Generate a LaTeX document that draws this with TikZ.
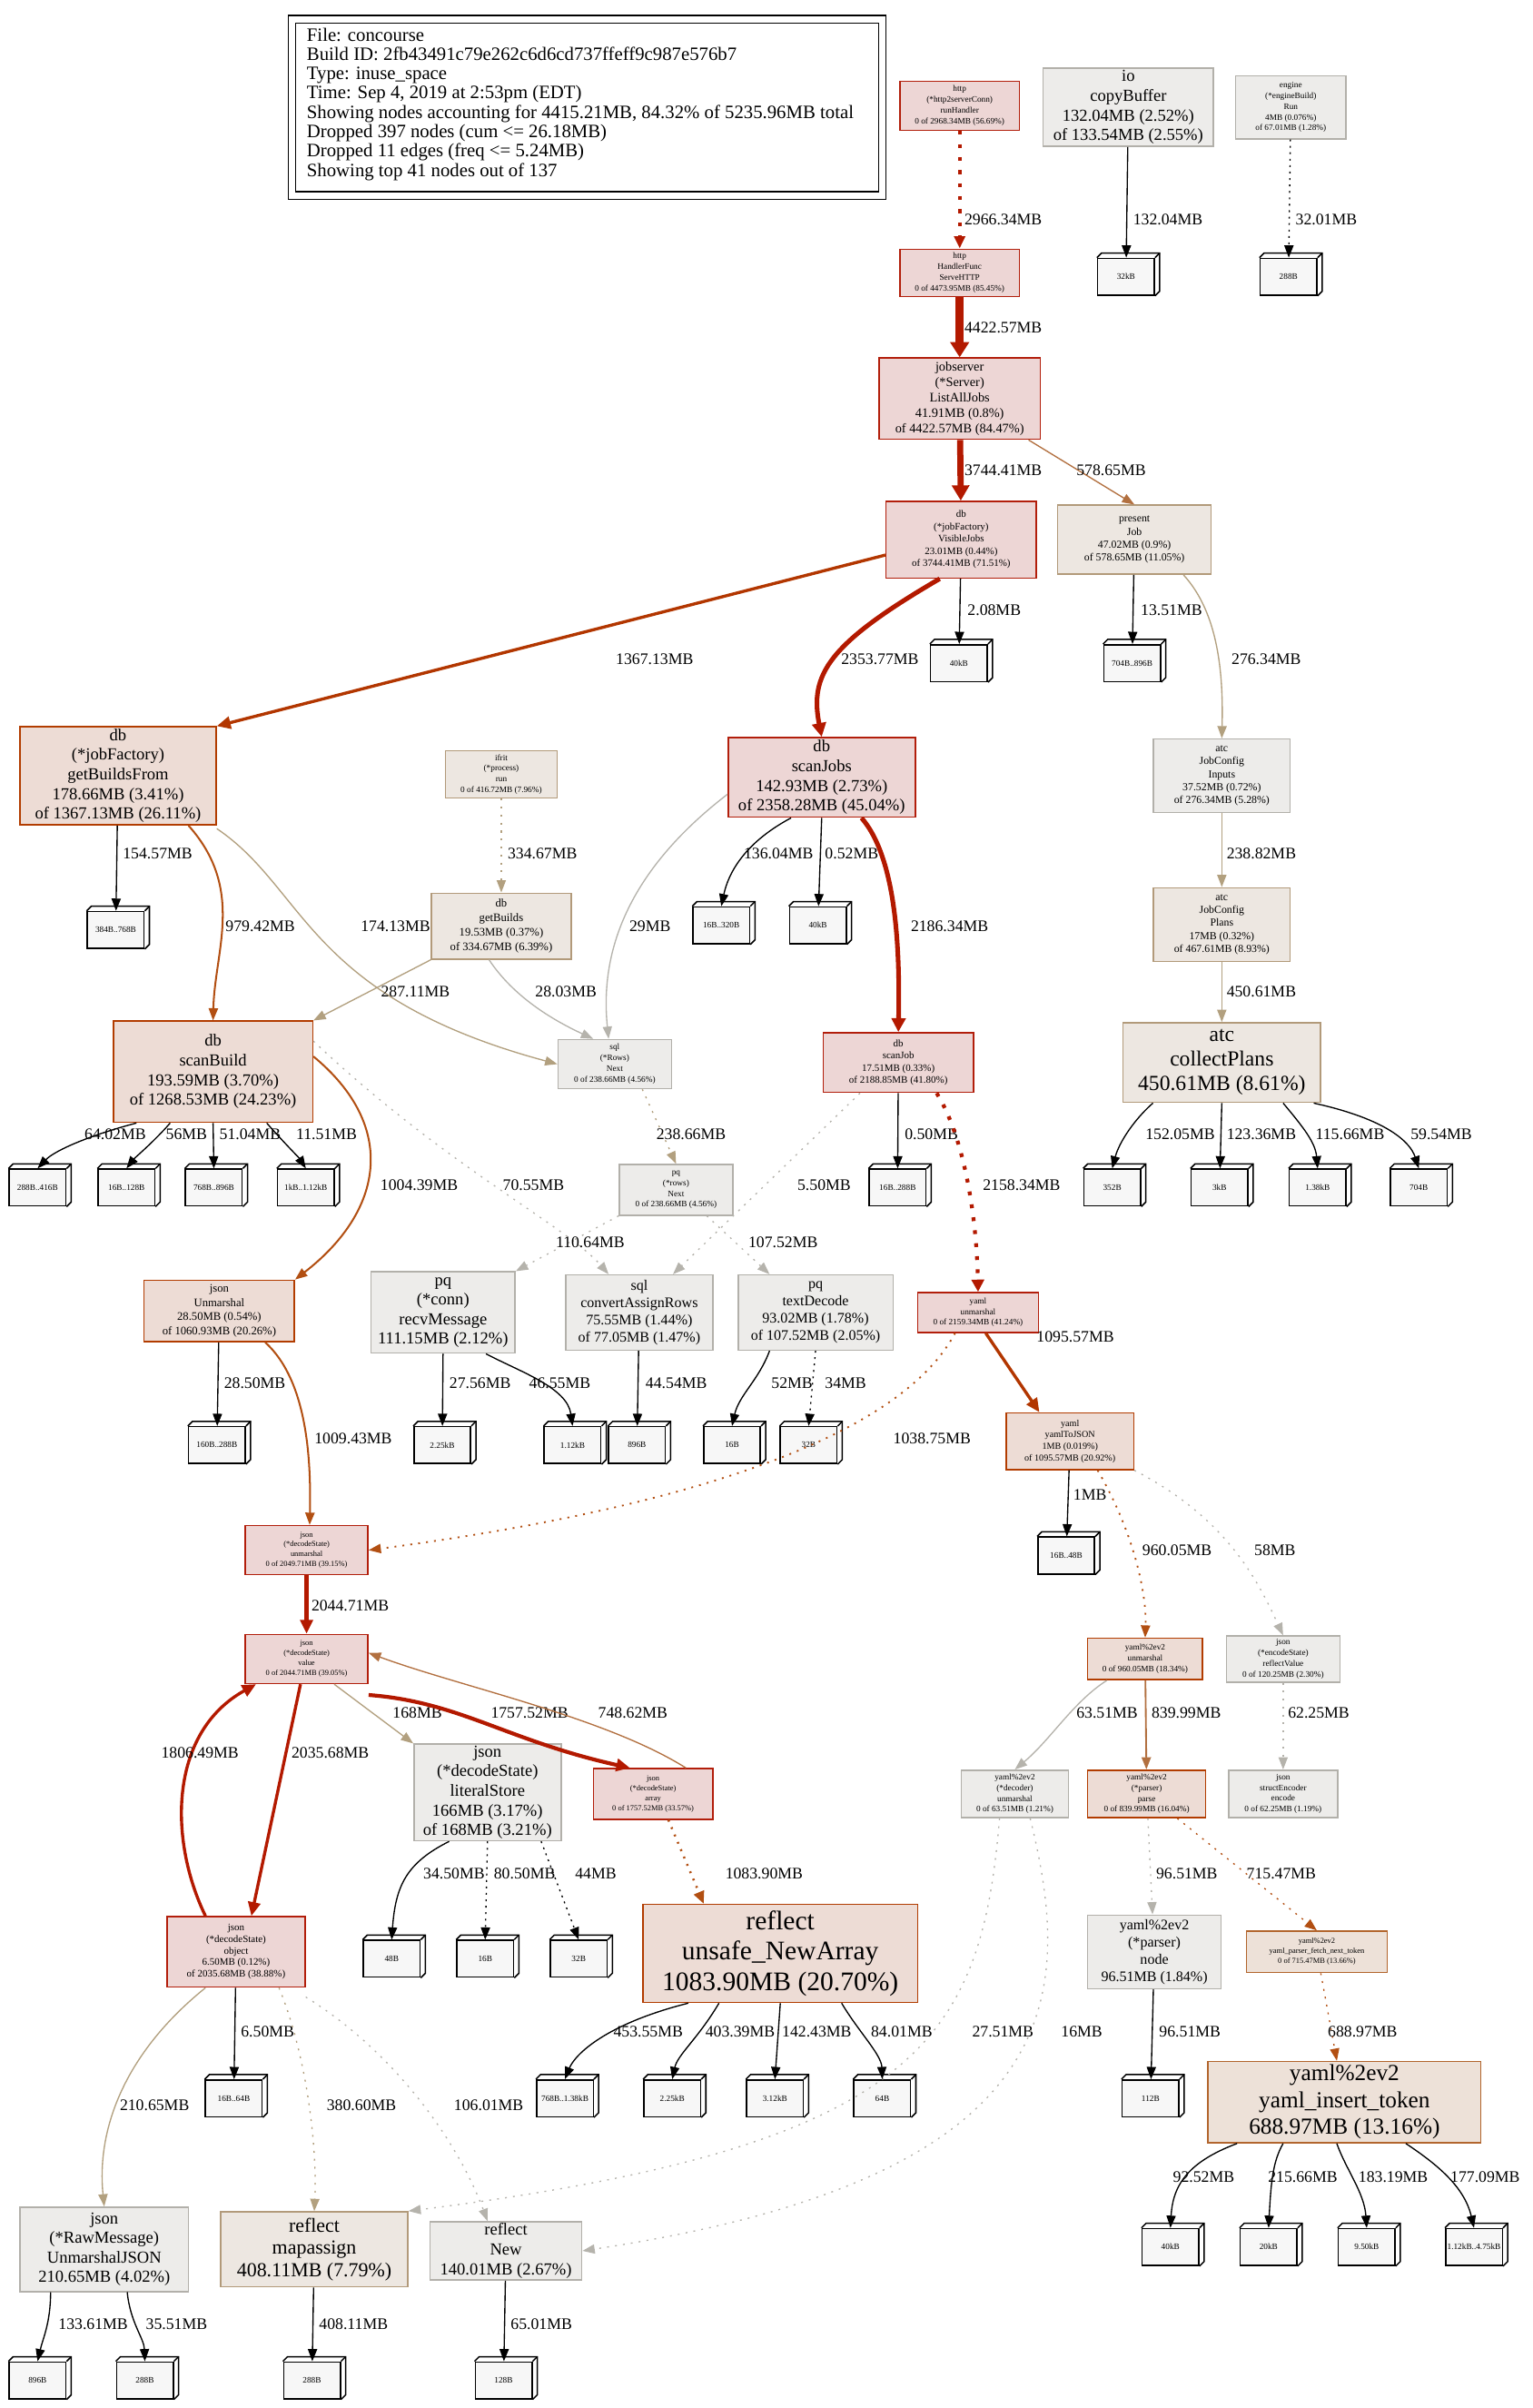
\documentclass[tikz,border=0pt]{standalone}
\usepackage{fontspec}
\setmainfont{Liberation Serif}
\usetikzlibrary{arrows.meta}
\definecolor{hotF}{HTML}{EDD6D5}\definecolor{hotD}{HTML}{B21E0B}
\definecolor{warF}{HTML}{EDDCD5}\definecolor{warD}{HTML}{B23C00}
\definecolor{oraF}{HTML}{EDE1D8}\definecolor{oraD}{HTML}{B2652D}
\definecolor{tanF}{HTML}{EDE7E1}\definecolor{tanD}{HTML}{B29A7A}
\definecolor{gryF}{HTML}{EDECEA}\definecolor{gryD}{HTML}{B2B0AA}
\definecolor{eRed}{HTML}{B31900}\definecolor{eWar}{HTML}{B23600}
\definecolor{eOra}{HTML}{B24F12}\definecolor{eLor}{HTML}{B27040}
\definecolor{eTan}{HTML}{B2A07F}\definecolor{eGry}{HTML}{B5B3AC}
\tikzset{
 fn/.style={draw,line width=0.9pt,align=center,inner sep=1pt},
 hot/.style={fn,fill=hotF,draw=hotD},
 war/.style={fn,fill=warF,draw=warD},
 ora/.style={fn,fill=oraF,draw=oraD},
 tanb/.style={fn,fill=tanF,draw=tanD},
 gry/.style={fn,fill=gryF,draw=gryD},
 f1/.style={font=\fontsize{5.5}{7}\selectfont},
 f2/.style={font=\fontsize{8.5}{10}\selectfont},
 f3/.style={font=\fontsize{11}{12.8}\selectfont},
 f4/.style={font=\fontsize{14}{16}\selectfont},
 f5/.style={font=\fontsize{17.5}{20}\selectfont},
 bxs/.style={draw,line width=0.9pt,fill=black!3,minimum width=37pt,minimum height=24pt,font=\fontsize{5.5}{6}\selectfont,inner sep=0pt},
 lb/.style={font=\fontsize{10.5}{12}\selectfont,anchor=west,inner sep=0pt},
 lc/.style={font=\fontsize{10.5}{12}\selectfont,inner sep=0pt},
 ar/.style={-{Triangle[length=8pt,width=6pt]},line width=0.8pt},
 blk/.style={ar,black},
 dots/.style={dash pattern=on 1.2pt off 4pt},
}
\newcommand\mybx[4]{\node[bxs] (#1) at (#2-1.5,#3+1.5) {#4};
 \draw[line width=0.9pt] (#1.north west) -- ++(3,-3) -- ([shift={(3,-3)}]#1.north east) -- ([shift={(3,-3)}]#1.south east) -- (#1.south east);
 \draw[line width=0.9pt] (#1.north east) -- ++(3,-3);}
\begin{document}
\begin{tikzpicture}[x=1pt,y=-1pt]
\useasboundingbox (0,0) rectangle (1000,1570.5);
% legend
\draw[line width=0.8pt] (188,10) rectangle (578,130);
\draw[line width=0.8pt] (193,15) rectangle (573,125);
\node[anchor=north west,align=left,font=\fontsize{12.3}{12.6}\selectfont,inner sep=0pt] (legend) at (200,18) {File: concourse\\Build ID: 2fb43491c79e262c6d6cd737ffeff9c987e576b7\\Type: inuse\_space\\Time: Sep 4, 2019 at 2:53pm (EDT)\\Showing nodes accounting for 4415.21MB, 84.32\% of 5235.96MB total\\Dropped 397 nodes (cum <= 26.18MB)\\Dropped 11 edges (freq <= 5.24MB)\\Showing top 41 nodes out of 137};
% nodes
\node[hot,f1,minimum width=78pt,minimum height=32pt] (rh) at (626,69) {http\\(*http2serverConn)\\runHandler\\0 of 2968.34MB (56.69\%)};
\node[hot,f1,minimum width=78pt,minimum height=31pt] (sh) at (626,178) {http\\HandlerFunc\\ServeHTTP\\0 of 4473.95MB (85.45\%)};
\node[gry,f3,minimum width=111pt,minimum height=51pt] (io) at (736,70) {io\\copyBuffer\\132.04MB (2.52\%)\\of 133.54MB (2.55\%)};
\node[gry,f1,minimum width=72pt,minimum height=41pt] (eng) at (842,70) {engine\\(*engineBuild)\\Run\\4MB (0.076\%)\\of 67.01MB (1.28\%)};
\mybx{b1}{736}{179}{32kB}
\mybx{b2}{842}{179}{288B}
\node[hot,f2,minimum width=105pt,minimum height=53pt] (laj) at (626,260) {jobserver\\(*Server)\\ListAllJobs\\41.91MB (0.8\%)\\of 4422.57MB (84.47\%)};
\node[hot,f1,font=\fontsize{6.5}{8}\selectfont,minimum width=98pt,minimum height=50pt] (vj) at (627,352) {db\\(*jobFactory)\\VisibleJobs\\23.01MB (0.44\%)\\of 3744.41MB (71.51\%)};
\node[tanb,f1,font=\fontsize{7}{8.5}\selectfont,minimum width=100pt,minimum height=45pt] (pj) at (740,352) {present\\Job\\47.02MB (0.9\%)\\of 578.65MB (11.05\%)};
\mybx{b3}{627}{431}{40kB}
\mybx{b4}{740}{431}{704B..896B}
\node[war,f3,minimum width=128pt,minimum height=64pt] (gbf) at (77,506) {db\\(*jobFactory)\\getBuildsFrom\\178.66MB (3.41\%)\\of 1367.13MB (26.11\%)};
\node[tanb,f1,minimum width=73pt,minimum height=31pt] (ifr) at (327,505) {ifrit\\(*process)\\run\\0 of 416.72MB (7.96\%)};
\node[hot,f3,minimum width=122pt,minimum height=52pt] (sjs) at (536,507) {db\\scanJobs\\142.93MB (2.73\%)\\of 2358.28MB (45.04\%)};
\node[gry,f1,font=\fontsize{7}{8.5}\selectfont,minimum width=89pt,minimum height=48pt] (inp) at (797,506) {atc\\JobConfig\\Inputs\\37.52MB (0.72\%)\\of 276.34MB (5.28\%)};
\mybx{b5}{77}{605}{384B..768B}
\node[tanb,f2,font=\fontsize{7.5}{9.5}\selectfont,minimum width=91pt,minimum height=43pt] (gb) at (327,604) {db\\getBuilds\\19.53MB (0.37\%)\\of 334.67MB (6.39\%)};
\mybx{b6}{472}{602}{16B..320B}
\mybx{b7}{535}{602}{40kB}
\node[tanb,f1,font=\fontsize{7}{8.5}\selectfont,minimum width=89pt,minimum height=48pt] (pl) at (797,603) {atc\\JobConfig\\Plans\\17MB (0.32\%)\\of 467.61MB (8.93\%)};
\node[war,f3,minimum width=130pt,minimum height=66pt] (sb) at (139,699) {db\\scanBuild\\193.59MB (3.70\%)\\of 1268.53MB (24.23\%)};
\node[gry,f1,minimum width=74pt,minimum height=32pt] (rn) at (401,694) {sql\\(*Rows)\\Next\\0 of 238.66MB (4.56\%)};
\node[hot,f1,font=\fontsize{6.5}{8}\selectfont,minimum width=98pt,minimum height=39pt] (sj) at (586,693) {db\\scanJob\\17.51MB (0.33\%)\\of 2188.85MB (41.80\%)};
\node[tanb,f4,minimum width=129pt,minimum height=52pt] (cp) at (797,693) {atc\\collectPlans\\450.61MB (8.61\%)};
\mybx{c1}{26}{773}{288B..416B}
\mybx{c2}{84}{773}{16B..128B}
\mybx{c3}{141}{773}{768B..896B}
\mybx{c4}{201}{773}{1kB..1.12kB}
\mybx{c5}{587}{773}{16B..288B}
\mybx{c6}{727}{773}{352B}
\mybx{c7}{797}{773}{3kB}
\mybx{c8}{861}{773}{1.38kB}
\mybx{c9}{927}{773}{704B}
\node[gry,f1,minimum width=74pt,minimum height=33pt] (prn) at (441,776) {pq\\(*rows)\\Next\\0 of 238.66MB (4.56\%)};
\node[war,f2,font=\fontsize{7.5}{9.2}\selectfont,minimum width=98pt,minimum height=40pt] (ju) at (143,855) {json\\Unmarshal\\28.50MB (0.54\%)\\of 1060.93MB (20.26\%)};
\node[gry,f3,minimum width=94pt,minimum height=53pt] (rm) at (289,856) {pq\\(*conn)\\recvMessage\\111.15MB (2.12\%)};
\node[gry,f2,font=\fontsize{9.5}{11.3}\selectfont,minimum width=96pt,minimum height=49pt] (car) at (417,856) {sql\\convertAssignRows\\75.55MB (1.44\%)\\of 77.05MB (1.47\%)};
\node[gry,f2,font=\fontsize{9.5}{11.3}\selectfont,minimum width=101pt,minimum height=49pt] (td) at (532,856) {pq\\textDecode\\93.02MB (1.78\%)\\of 107.52MB (2.05\%)};
\node[hot,f1,minimum width=79pt,minimum height=26pt] (yu) at (638,856) {yaml\\unmarshal\\0 of 2159.34MB (41.24\%)};
\mybx{d1}{143}{941}{160B..288B}
\mybx{d2}{290}{941}{2.25kB}
\mybx{d3}{375}{941}{1.12kB}
\mybx{d4}{417}{941}{896B}
\mybx{d5}{479}{941}{16B}
\mybx{d6}{529}{941}{32B}
\node[war,f1,font=\fontsize{6}{7.5}\selectfont,minimum width=83pt,minimum height=37pt] (ytj) at (698,940) {yaml\\yamlToJSON\\1MB (0.019\%)\\of 1095.57MB (20.92\%)};
\mybx{d7}{697}{1013}{16B..48B}
\node[hot,f1,font=\fontsize{5}{6.5}\selectfont,minimum width=80pt,minimum height=32pt] (dsu) at (200,1011) {json\\(*decodeState)\\unmarshal\\0 of 2049.71MB (39.15\%)};
\node[hot,f1,font=\fontsize{5}{6.5}\selectfont,minimum width=80pt,minimum height=32pt] (dsv) at (200,1082) {json\\(*decodeState)\\value\\0 of 2044.71MB (39.05\%)};
\node[war,f1,minimum width=75pt,minimum height=27pt] (y2u) at (747,1082) {yaml\%2ev2\\unmarshal\\0 of 960.05MB (18.34\%)};
\node[gry,f1,minimum width=74pt,minimum height=30pt] (esr) at (837,1082) {json\\(*encodeState)\\reflectValue\\0 of 120.25MB (2.30\%)};
\node[gry,f3,minimum width=96pt,minimum height=63pt] (ls) at (318,1169) {json\\(*decodeState)\\literalStore\\166MB (3.17\%)\\of 168MB (3.21\%)};
\node[hot,f1,font=\fontsize{5}{6.5}\selectfont,minimum width=78pt,minimum height=33pt] (dsa) at (426,1170) {json\\(*decodeState)\\array\\0 of 1757.52MB (33.57\%)};
\node[gry,f1,minimum width=70pt,minimum height=31pt] (ydu) at (662,1170) {yaml\%2ev2\\(*decoder)\\unmarshal\\0 of 63.51MB (1.21\%)};
\node[war,f1,minimum width=77pt,minimum height=31pt] (ypp) at (748,1170) {yaml\%2ev2\\(*parser)\\parse\\0 of 839.99MB (16.04\%)};
\node[gry,f1,minimum width=71pt,minimum height=31pt] (jse) at (837,1170) {json\\structEncoder\\encode\\0 of 62.25MB (1.19\%)};
\node[hot,f1,font=\fontsize{6.5}{7.5}\selectfont,minimum width=90pt,minimum height=46pt] (dso) at (154,1273) {json\\(*decodeState)\\object\\6.50MB (0.12\%)\\of 2035.68MB (38.88\%)};
\mybx{e1}{257}{1276}{48B}
\mybx{e2}{318}{1276}{16B}
\mybx{e3}{379}{1276}{32B}
\node[war,f5,minimum width=179pt,minimum height=64pt] (una) at (509,1274) {reflect\\unsafe\_NewArray\\1083.90MB (20.70\%)};
\node[gry,f2,font=\fontsize{9.5}{11.3}\selectfont,minimum width=87pt,minimum height=48pt] (ypn) at (753,1273) {yaml\%2ev2\\(*parser)\\node\\96.51MB (1.84\%)};
\node[ora,f1,font=\fontsize{5}{6.5}\selectfont,minimum width=92pt,minimum height=27pt] (fnt) at (859,1273) {yaml\%2ev2\\yaml\_parser\_fetch\_next\_token\\0 of 715.47MB (13.66\%)};
\mybx{g1}{154}{1367}{16B..64B}
\mybx{g2}{370}{1367}{768B..1.38kB}
\mybx{g3}{440}{1367}{2.25kB}
\mybx{g4}{507}{1367}{3.12kB}
\mybx{g5}{577}{1367}{64B}
\mybx{g6}{752}{1367}{112B}
\node[ora,f4,font=\fontsize{15}{17.5}\selectfont,minimum width=178pt,minimum height=53pt] (yit) at (877,1371) {yaml\%2ev2\\yaml\_insert\_token\\688.97MB (13.16\%)};
\node[gry,f3,minimum width=110pt,minimum height=55pt] (rjm) at (68,1467) {json\\(*RawMessage)\\UnmarshalJSON\\210.65MB (4.02\%)};
\node[tanb,f4,font=\fontsize{13}{14.5}\selectfont,minimum width=122pt,minimum height=49pt] (ma) at (205,1467) {reflect\\mapassign\\408.11MB (7.79\%)};
\node[gry,f3,minimum width=99pt,minimum height=38pt] (rnw) at (330,1468) {reflect\\New\\140.01MB (2.67\%)};
\mybx{h1}{765}{1464}{40kB}
\mybx{h2}{829}{1464}{20kB}
\mybx{h3}{893}{1464}{9.50kB}
\mybx{h4}{963}{1464}{1.12kB..4.75kB}
\mybx{k1}{26}{1551}{896B}
\mybx{k2}{96}{1551}{288B}
\mybx{k3}{205}{1551}{288B}
\mybx{k4}{330}{1551}{128B}
% edges
\draw[ar,eRed,line width=2.5pt,dash pattern=on 2.5pt off 6pt,-{Triangle[length=8pt,width=7pt]}] (rh) -- (sh);
\node[lb] at (629,143) {2966.34MB};
\draw[eRed,line width=5pt,-{Triangle[length=10pt,width=12pt]}] (sh) -- (laj);
\node[lb] at (629,214) {4422.57MB};
\draw[blk] (io) -- (b1); \node[lb] at (739,143) {132.04MB};
\draw[blk,dash pattern=on 1.2pt off 3pt] (eng) -- (b2); \node[lb] at (845,143) {32.01MB};
\draw[eRed,line width=4pt,-{Triangle[length=10pt,width=11pt]}] (laj) -- (vj); \node[lb] at (629,307) {3744.41MB};
\draw[ar,eLor] (laj.south east) ++(-8,0) -- (pj.north); \node[lb] at (702,307) {578.65MB};
\draw[blk] (vj) -- (b3); \node[lb] at (631,398) {2.08MB};
\draw[blk] (pj) -- (b4); \node[lb] at (744,398) {13.51MB};
\draw[eWar,line width=2pt,-{Triangle[length=9pt,width=8pt]}] (vj.west) ++(0,10) -- (gbf.north east);
\node[lc] at (427,430) {1367.13MB};
\draw[eRed,line width=3pt,-{Triangle[length=9pt,width=9pt]}] ([xshift=-14pt]vj.south) .. controls (540,420) and (528,440) .. (sjs.north);
\node[lc] at (574,430) {2353.77MB};
\draw[ar,eTan] ([xshift=32]pj.south) .. controls (795,400) and (798,440) .. (inp.north);
\node[lc] at (826,430) {276.34MB};
\draw[blk] (gbf) -- (b5); \node[lb] at (80,557) {154.57MB};
\draw[ar,eOra,line width=1.2pt] ([xshift=46]gbf.south) .. controls (160,580) and (140,620) .. (sb.north);
\node[lb] at (147,604) {979.42MB};
\draw[ar,eTan] ([yshift=-2]gbf.south east) .. controls (200,580) and (200,650) .. (rn.west);
\node[lc] at (258,604) {174.13MB};
\draw[ar,eTan,dots] (ifr) -- (gb); \node[lb] at (331,557) {334.67MB};
\draw[ar,eTan] (gb.south west) -- (sb.north east); \node[lc] at (271,647) {287.11MB};
\draw[ar,eGry] ([xshift=-8]gb.south) .. controls (335,650) and (360,665) .. ([xshift=-14]rn.north);
\node[lb] at (349,647) {28.03MB};
\draw[ar,eGry] ([yshift=-11]sjs.west) .. controls (420,560) and (390,610) .. ([xshift=-4]rn.north);
\node[lc] at (424,604) {29MB};
\draw[blk] ([xshift=-20]sjs.south) .. controls (485,550) and (475,570) .. (b6.north); \node[lb] at (485,557) {136.04MB};
\draw[blk] (sjs.south) -- (b7); \node[lb] at (538,557) {0.52MB};
\draw[eRed,line width=3pt,-{Triangle[length=9pt,width=9pt]}] ([xshift=26]sjs.south) .. controls (585,560) and (587,620) .. (sj.north);
\node[lb] at (594,604) {2186.34MB};
\draw[ar,eTan] (inp) -- (pl); \node[lb] at (800,557) {238.82MB};
\draw[ar,eTan] (pl) -- (cp); \node[lb] at (800,647) {450.61MB};
\draw[blk] ([xshift=-50]sb.south) .. controls (60,740) and (36,750) .. (c1.north); \node[lb] at (55,740) {64.02MB};
\draw[blk] ([xshift=-28]sb.south) .. controls (100,745) and (88,755) .. (c2.north); \node[lb] at (108,740) {56MB};
\draw[blk] (sb.south) -- (c3.north); \node[lb] at (143,740) {51.04MB};
\draw[blk] ([xshift=35]sb.south) .. controls (185,745) and (195,755) .. (c4.north); \node[lb] at (193,740) {11.51MB};
\draw[ar,eOra,line width=1.2pt] ([yshift=10]sb.east) .. controls (260,735) and (250,790) .. (ju.north east);
\node[lb] at (248,773) {1004.39MB};
\draw[ar,eGry,dots] ([yshift=20]sb.east) .. controls (290,760) and (370,800) .. ([xshift=-20]car.north);
\node[lc] at (348,773) {70.55MB};
\draw[ar,eTan,dots] ([xshift=18]rn.south) -- (prn.north); \node[lb] at (428,740) {238.66MB};
\draw[ar,eGry,dots] (prn.south west) -- (rm.north east); \node[lc] at (385,810) {110.64MB};
\draw[ar,eGry,dots] ([xshift=20]prn.south) -- ([xshift=-30]td.north); \node[lb] at (488,810) {107.52MB};
\draw[blk] (sj) -- (c5); \node[lb] at (590,740) {0.50MB};
\draw[ar,eGry,dots] ([xshift=-25]sj.south) -- ([xshift=22]car.north); \node[lb] at (520,773) {5.50MB};
\draw[eRed,line width=2.5pt,dash pattern=on 2.5pt off 6pt,-{Triangle[length=8pt,width=8pt]}] ([xshift=25]sj.south) .. controls (628,740) and (637,790) .. (yu.north);
\node[lb] at (641,773) {2158.34MB};
\draw[blk] (cp.south west) ++(20,0) .. controls (740,730) and (730,745) .. (c6.north); \node[lb] at (747,740) {152.05MB};
\draw[blk] (cp.south) -- (c7); \node[lb] at (800,740) {123.36MB};
\draw[blk] ([xshift=40]cp.south) .. controls (850,735) and (858,745) .. (c8.north); \node[lb] at (858,740) {115.66MB};
\draw[blk] (cp.south east) ++(-5,0) .. controls (905,730) and (920,745) .. (c9.north); \node[lb] at (920,740) {59.54MB};
\draw[blk] (ju) -- (d1); \node[lb] at (146,902) {28.50MB};
\draw[ar,eOra,line width=1.2pt] ([xshift=30]ju.south) .. controls (200,900) and (203,950) .. ([xshift=2]dsu.north);
\node[lb] at (205,938) {1009.43MB};
\draw[blk] (rm.south) -- (d2); \node[lb] at (293,902) {27.56MB};
\draw[blk] ([xshift=28]rm.south) .. controls (340,895) and (370,905) .. (d3.north); \node[lb] at (345,902) {46.55MB};
\draw[blk] (car) -- (d4); \node[lb] at (421,902) {44.54MB};
\draw[blk] ([xshift=-30]td.south) .. controls (495,900) and (482,910) .. (d5.north); \node[lb] at (503,902) {52MB};
\draw[blk,dash pattern=on 1.2pt off 3pt] (td.south) -- (d6.north); \node[lb] at (538,902) {34MB};
\draw[eWar,line width=2pt,-{Triangle[length=9pt,width=8pt]}] ([xshift=5]yu.south) -- ([xshift=-20]ytj.north); \node[lb] at (676,872) {1095.57MB};
\draw[ar,eOra,line width=1.1pt,dots] ([xshift=-15]yu.south) .. controls (580,950) and (400,990) .. (dsu.east);
\node[lc] at (608,938) {1038.75MB};
\draw[blk] (ytj) -- (d7); \node[lb] at (700,975) {1MB};
\draw[ar,eOra,line width=1.1pt,dots] ([xshift=18]ytj.south) .. controls (740,1000) and (748,1040) .. (y2u.north);
\node[lb] at (745,1011) {960.05MB};
\draw[ar,eGry,dots] (ytj.south east) .. controls (800,990) and (820,1030) .. (esr.north);
\node[lb] at (818,1011) {58MB};
\draw[eRed,line width=2.5pt,-{Triangle[length=9pt,width=8pt]}] (dsu) -- (dsv); \node[lb] at (203,1047) {2044.71MB};
\draw[ar,eTan] ([xshift=18]dsv.south) -- (ls.north west); \node[lb] at (256,1117) {168MB};
\draw[eRed,line width=2.5pt,-{Triangle[length=9pt,width=8pt]}] ([yshift=-7]dsv.south east) .. controls (300,1110) and (330,1135) .. ([xshift=-15]dsa.north);
\node[lb] at (320,1117) {1757.52MB};
\draw[ar,eLor] ([xshift=-18]dsa.north east) .. controls (395,1120) and (300,1100) .. ([yshift=4]dsv.east);
\node[lb] at (390,1117) {748.62MB};
\draw[eRed,line width=2pt,-{Triangle[length=9pt,width=8pt]}] ([xshift=-4]dsv.south) -- ([xshift=10]dso.north);
\node[lb] at (190,1143) {2035.68MB};
\draw[eRed,line width=2pt,-{Triangle[length=9pt,width=8pt]}] ([xshift=-20]dso.north) .. controls (110,1200) and (110,1130) .. ([xshift=-33]dsv.south);
\node[lb] at (105,1143) {1806.49MB};
\draw[ar,eGry] ([xshift=-25]y2u.south) .. controls (700,1110) and (685,1135) .. (ydu.north);
\node[lb] at (702,1117) {63.51MB};
\draw[ar,eLor,line width=1.1pt] (y2u) -- (ypp); \node[lb] at (751,1117) {839.99MB};
\draw[ar,eGry,dots] (esr) -- (jse); \node[lb] at (840,1117) {62.25MB};
\draw[blk] ([xshift=-25]ls.south) .. controls (265,1215) and (258,1230) .. (e1.north); \node[lb] at (276,1222) {34.50MB};
\draw[blk,dash pattern=on 1.2pt off 3pt] (ls.south) -- (e2.north); \node[lb] at (322,1222) {80.50MB};
\draw[blk,dash pattern=on 1.2pt off 3pt] ([xshift=35]ls.south) -- (e3.north); \node[lb] at (375,1222) {44MB};
\draw[eOra,line width=1.5pt,dots,-{Triangle[length=8pt,width=7pt]}] ([xshift=10]dsa.south) -- ([xshift=-50]una.north); \node[lb] at (473,1222) {1083.90MB};
\draw[ar,eGry,dots] (ypp) -- (ypn); \node[lb] at (754,1222) {96.51MB};
\draw[ar,eOra,dots] ([xshift=20]ypp.south) -- (fnt.north); \node[lb] at (813,1222) {715.47MB};
\draw[ar,eGry,dots] ([xshift=-10]ydu.south) .. controls (640,1330) and (600,1400) .. (ma.north east);
\node[lb] at (634,1325) {27.51MB};
\draw[ar,eGry,dots] ([xshift=10]ydu.south) .. controls (700,1300) and (700,1420) .. (rnw.east);
\node[lb] at (692,1325) {16MB};
\draw[blk] (dso) -- (g1); \node[lb] at (157,1325) {6.50MB};
\draw[ar,eTan] ([xshift=-20]dso.south) .. controls (80,1340) and (63,1390) .. (rjm.north);
\node[lb] at (78,1373) {210.65MB};
\draw[ar,eTan,dots] ([xshift=28]dso.south) .. controls (200,1340) and (207,1400) .. (ma.north);
\node[lb] at (213,1373) {380.60MB};
\draw[ar,eGry,dots] ([yshift=-6]dso.south east) .. controls (260,1340) and (300,1400) .. ([xshift=-12]rnw.north);
\node[lb] at (296,1373) {106.01MB};
\draw[blk] ([xshift=-60]una.south) .. controls (395,1320) and (375,1340) .. (g2.north); \node[lb] at (400,1325) {453.55MB};
\draw[blk] ([xshift=-40]una.south) .. controls (455,1330) and (442,1340) .. (g3.north); \node[lb] at (460,1325) {403.39MB};
\draw[blk] (una.south) -- (g4.north); \node[lb] at (510,1325) {142.43MB};
\draw[blk] ([xshift=40]una.south) .. controls (560,1325) and (575,1340) .. (g5.north); \node[lb] at (568,1325) {84.01MB};
\draw[blk] (ypn) -- (g6); \node[lb] at (756,1325) {96.51MB};
\draw[ar,eOra,dots] (fnt) -- (yit); \node[lb] at (866,1325) {688.97MB};
\draw[blk] ([xshift=-70]yit.south) .. controls (775,1410) and (765,1425) .. (h1.north); \node[lb] at (765,1420) {92.52MB};
\draw[blk] ([xshift=-40]yit.south) .. controls (830,1410) and (829,1425) .. (h2.north); \node[lb] at (827,1420) {215.66MB};
\draw[blk] ([xshift=-5]yit.south) .. controls (878,1415) and (890,1430) .. (h3.north); \node[lb] at (886,1420) {183.19MB};
\draw[blk] ([xshift=40]yit.south) .. controls (935,1410) and (955,1425) .. (h4.north); \node[lb] at (946,1420) {177.09MB};
\draw[blk] ([xshift=-35]rjm.south) .. controls (33,1515) and (28,1525) .. (k1.north); \node[lb] at (38,1516) {133.61MB};
\draw[blk] ([xshift=15]rjm.south) .. controls (85,1515) and (94,1525) .. (k2.north); \node[lb] at (95,1516) {35.51MB};
\draw[blk] (ma) -- (k3); \node[lb] at (208,1516) {408.11MB};
\draw[blk] (rnw) -- (k4); \node[lb] at (333,1516) {65.01MB};
\end{tikzpicture}
\end{document}
